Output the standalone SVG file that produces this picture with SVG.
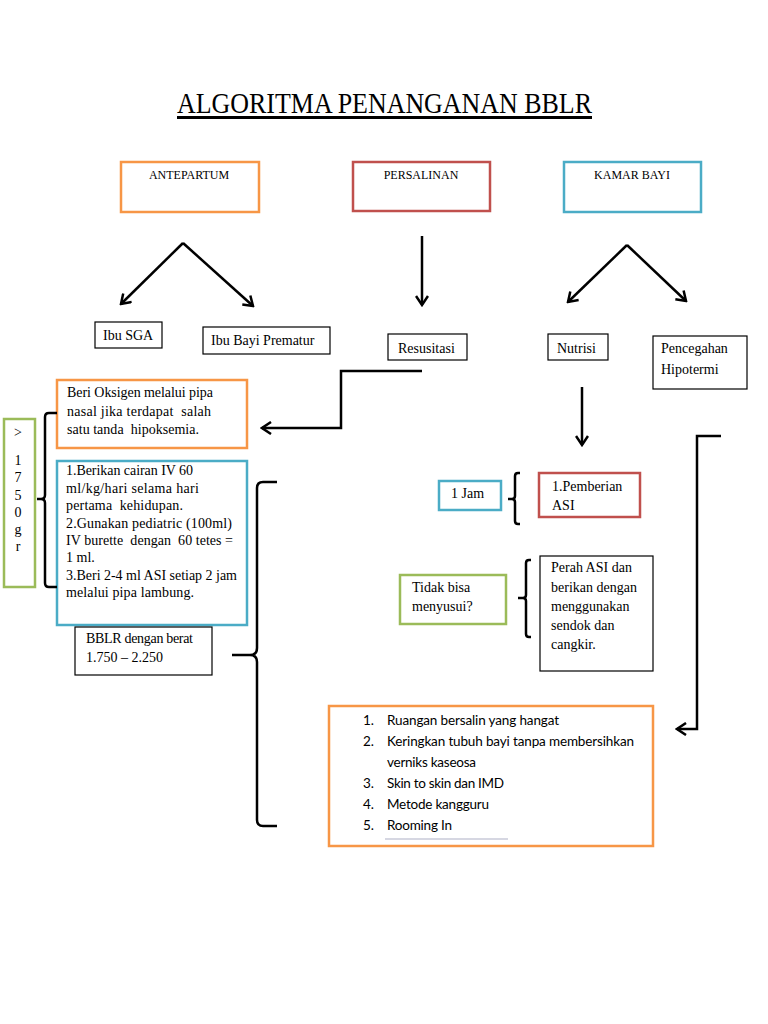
<svg xmlns="http://www.w3.org/2000/svg" width="768" height="1024" viewBox="0 0 768 1024">
<defs>
<style>
.serif{font-family:"Liberation Serif","Times New Roman",serif;fill:#000}
.sans{font-family:Lato,"Liberation Sans",Arial,sans-serif;fill:#000}
.s12{font-size:12px}
.s13{font-size:14px}
.box{fill:#fff;stroke-width:2.5}
.thin{fill:#fff;stroke:#000;stroke-width:1.2}
.orange{stroke:#f79646}
.red{stroke:#c0504d}
.blue{stroke:#4bacc6}
.green{stroke:#9bbb59}
.blk{stroke:#000}
.conn{stroke:#000;stroke-width:2.5;fill:none}
.arrow{marker-end:url(#arr)}
</style>
<marker id="arr" markerUnits="userSpaceOnUse" markerWidth="14" markerHeight="14" viewBox="0 0 14 14" refX="12" refY="7" orient="auto">
<path d="M3,1 L12,7 L3,13" fill="none" stroke="#000" stroke-width="2.5"/>
</marker>
</defs>
<rect width="768" height="1024" fill="#fff"/>

<g id="title">
<text class="serif" x="177" y="113" font-size="30" textLength="415" lengthAdjust="spacingAndGlyphs">ALGORITMA PENANGANAN BBLR</text>
<line x1="177" y1="117.5" x2="592" y2="117.5" stroke="#000" stroke-width="2.8"/>
</g>

<g id="antepartum">
<rect class="box orange" x="121" y="162" width="138" height="50"/>
<text class="serif s12" x="189" y="179" text-anchor="middle">ANTEPARTUM</text>
</g>
<g id="persalinan">
<rect class="box red" x="353" y="162" width="137" height="49"/>
<text class="serif s12" x="421" y="179" text-anchor="middle">PERSALINAN</text>
</g>
<g id="kamar-bayi">
<rect class="box blue" x="564" y="162" width="137" height="50"/>
<text class="serif s12" x="632" y="179" text-anchor="middle">KAMAR BAYI</text>
</g>

<g id="ibu-sga">
<rect class="thin" x="95" y="322" width="67" height="26"/>
<text class="serif s13" x="103" y="340">Ibu SGA</text>
</g>
<g id="ibu-bayi-prematur">
<rect class="thin" x="203" y="327" width="127" height="27"/>
<text class="serif s13" x="211" y="345">Ibu Bayi Prematur</text>
</g>
<g id="resusitasi">
<rect class="thin" x="388" y="334" width="79" height="26"/>
<text class="serif s13" x="398" y="353">Resusitasi</text>
</g>
<g id="nutrisi">
<rect class="thin" x="548" y="334" width="60" height="26"/>
<text class="serif s13" x="557" y="353">Nutrisi</text>
</g>
<g id="pencegahan">
<rect class="thin" x="653" y="336" width="94" height="53"/>
<text class="serif s13" x="661" y="353">Pencegahan</text>
<text class="serif s13" x="661" y="374">Hipotermi</text>
</g>

<g id="beri-oksigen">
<rect class="box orange" x="57" y="380" width="190" height="68"/>
<text class="serif s13" x="67" y="397" textLength="146">Beri Oksigen melalui pipa</text>
<text class="serif s13" x="67" y="416" textLength="144" xml:space="preserve">nasal jika terdapat  salah</text>
<text class="serif s13" x="67" y="434" textLength="132" xml:space="preserve">satu tanda  hipoksemia.</text>
</g>

<g id="berat-1750">
<rect class="box green" x="4" y="419" width="31" height="168"/>
<text class="serif s13" x="18" y="437" text-anchor="middle">&gt;</text>
<text class="serif s13" x="18" y="465" text-anchor="middle">1</text>
<text class="serif s13" x="18" y="482" text-anchor="middle">7</text>
<text class="serif s13" x="18" y="500" text-anchor="middle">5</text>
<text class="serif s13" x="18" y="517" text-anchor="middle">0</text>
<text class="serif s13" x="18" y="534" text-anchor="middle">g</text>
<text class="serif s13" x="18" y="551" text-anchor="middle">r</text>
</g>

<g id="cairan-iv">
<rect class="box blue" x="57" y="461" width="190" height="164"/>
<text class="serif s13" x="66" y="475" textLength="127">1.Berikan cairan IV 60</text>
<text class="serif s13" x="66" y="492.5" textLength="133">ml/kg/hari selama hari</text>
<text class="serif s13" x="66" y="510" textLength="117" xml:space="preserve">pertama  kehidupan.</text>
<text class="serif s13" x="66" y="527.5" textLength="166">2.Gunakan pediatric (100ml)</text>
<text class="serif s13" x="66" y="545" textLength="167" xml:space="preserve">IV burette  dengan  60 tetes =</text>
<text class="serif s13" x="66" y="562">1 ml.</text>
<text class="serif s13" x="66" y="579.5" textLength="171">3.Beri 2-4 ml ASI setiap 2 jam</text>
<text class="serif s13" x="66" y="597" textLength="128">melalui pipa lambung.</text>
</g>

<g id="bblr-berat">
<rect class="thin" x="75" y="627" width="137" height="48"/>
<text class="serif s13" x="86" y="643" textLength="107">BBLR dengan berat</text>
<text class="serif s13" x="86" y="662">1.750 – 2.250</text>
</g>

<g id="satu-jam">
<rect class="box blue" x="439" y="481" width="62" height="29"/>
<text class="serif s13" x="451" y="498">1 Jam</text>
</g>
<g id="pemberian-asi">
<rect class="box red" x="539" y="473" width="101" height="44"/>
<text class="serif s13" x="552" y="491">1.Pemberian</text>
<text class="serif s13" x="552" y="510">ASI</text>
</g>
<g id="tidak-bisa">
<rect class="box green" x="400" y="575" width="106" height="49"/>
<text class="serif s13" x="412" y="592">Tidak bisa</text>
<text class="serif s13" x="412" y="611">menyusui?</text>
</g>
<g id="perah-asi">
<rect class="thin" x="540" y="556" width="113" height="115" stroke-width="2"/>
<text class="serif s13" x="551" y="572">Perah ASI dan</text>
<text class="serif s13" x="551" y="592">berikan dengan</text>
<text class="serif s13" x="551" y="611">menggunakan</text>
<text class="serif s13" x="551" y="630">sendok dan</text>
<text class="serif s13" x="551" y="649">cangkir.</text>
</g>

<g id="hipotermi-list">
<rect class="box orange" x="329" y="706" width="324" height="140"/>
<g class="sans" font-size="13.5">
<text x="363" y="725">1.</text><text x="387" y="725" textLength="172">Ruangan bersalin yang hangat</text>
<text x="363" y="746">2.</text><text x="387" y="746" textLength="247">Keringkan tubuh bayi tanpa membersihkan</text>
<text x="387" y="767" textLength="89">verniks kaseosa</text>
<text x="363" y="788">3.</text><text x="387" y="788" textLength="117">Skin to skin dan IMD</text>
<text x="363" y="809">4.</text><text x="387" y="809" textLength="102">Metode kangguru</text>
<text x="363" y="830">5.</text><text x="387" y="830" textLength="65">Rooming In</text>
</g>
<line x1="385" y1="839" x2="508" y2="839" stroke="#c8cad8" stroke-width="1.5"/>
</g>

<g id="connectors">
<path class="conn arrow" d="M183,243 L121,304"/>
<path class="conn arrow" d="M183,243 L253,306"/>
<path class="conn arrow" d="M422,236 L422,305"/>
<path class="conn arrow" d="M627,245 L568,302"/>
<path class="conn arrow" d="M627,245 L686,301"/>
<path class="conn arrow" d="M422,371 L341,371 L341,428 L262,428"/>
<path class="conn arrow" d="M582,387 L582,445"/>
<path class="conn arrow" d="M721,436 L697,436 L697,729 L677,729"/>
<path class="conn" d="M57,413 L49,413 Q45,413 45,417 L45,495 Q45,499 41,499 L37,499 M41,499 Q45,499 45,503 L45,583 Q45,587 49,587 L57,587"/>
<path class="conn" d="M277,482 L263,482 Q257,482 257,488 L257,648 Q257,655 250,655 L232,655 M250,655 Q257,655 257,662 L257,820 Q257,826 263,826 L277,826"/>
<path class="conn" d="M520,473 L518,473 Q515,473 515,476 L515,496 Q515,499 512,499 L508,499 M512,499 Q515,499 515,502 L515,521 Q515,524 518,524 L520,524"/>
<path class="conn" d="M531,560 L529,560 Q526,560 526,563 L526,595 Q526,598 523,598 L518,598 M523,598 Q526,598 526,601 L526,634 Q526,637 529,637 L531,637"/>
</g>
</svg>
